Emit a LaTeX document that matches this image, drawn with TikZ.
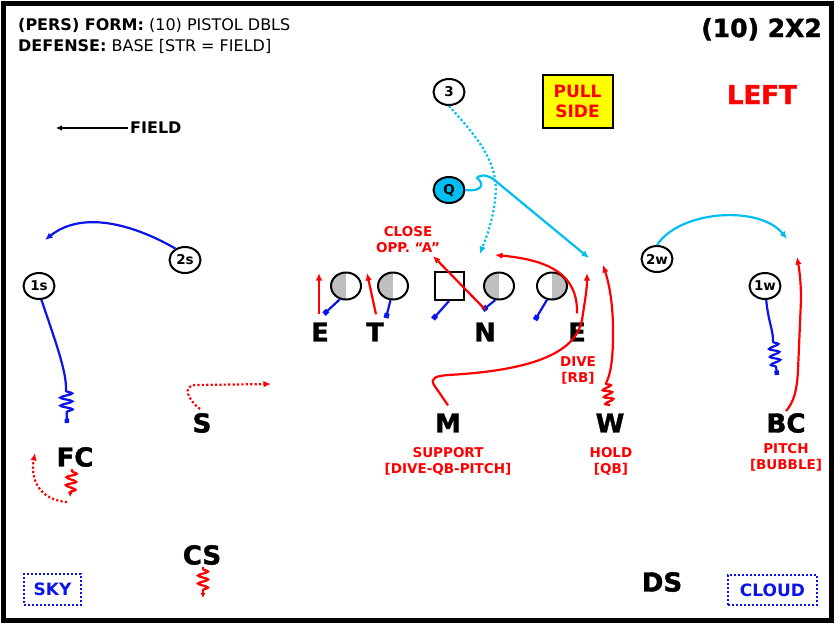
\documentclass[tikz,border=0pt]{standalone}
\usepackage{fontspec}
\setmainfont{DejaVu Sans}
\newfontfamily\heavyfont[BoldFeatures={FakeBold=1.6}]{DejaVu Sans}
\usetikzlibrary{shapes.geometric,arrows.meta,decorations.pathmorphing}
\definecolor{redR}{RGB}{255,0,0}
\definecolor{blueR}{RGB}{10,20,235}
\definecolor{cyanR}{RGB}{0,190,240}
\definecolor{grayR}{RGB}{191,191,191}
\definecolor{yellowR}{RGB}{255,255,0}
\begin{document}
\begin{tikzpicture}[x=1pt,y=-1pt,
  player/.style={ellipse, draw, line width=2pt, minimum width=31pt, minimum height=26pt, inner sep=0pt, font=\bfseries\fontsize{13.5}{15}\selectfont},
  lmL/.style={ellipse, draw, line width=2pt, minimum width=30pt, minimum height=27pt, inner sep=0pt,
     path picture={\fill[grayR] (path picture bounding box.south west) rectangle (path picture bounding box.north);}},
  lmR/.style={ellipse, draw, line width=2pt, minimum width=30pt, minimum height=27pt, inner sep=0pt,
     path picture={\fill[grayR] (path picture bounding box.south) rectangle (path picture bounding box.north east);}},
  ctr/.style={rectangle, draw, line width=2pt, minimum width=29pt, minimum height=28pt, inner sep=0pt},
  dft/.style={font=\heavyfont\bfseries\fontsize{26}{28}\selectfont, inner sep=0pt},
  lbl/.style={text=redR, font=\bfseries\fontsize{13.5}{16}\selectfont, align=center, inner sep=0pt},
  lw/.style={line width=2.2pt},
  rte/.style={line width=2.2pt, -{Latex[length=7.5pt,width=6.5pt]}},
  blk/.style={blueR, line width=2.2pt, -{Square[length=5pt,width=5pt]}},
  dotr/.style={line width=2.4pt, dash pattern=on 2.2pt off 2.2pt},
  zone/.style={draw=blueR, line width=2pt, dash pattern=on 2pt off 2pt, text=blueR, inner sep=0pt, font=\bfseries\fontsize{17}{20}\selectfont},
]
\useasboundingbox (0,0) rectangle (840,630);
\fill[white] (0,0) rectangle (840,630);
\draw[line width=5pt] (3,3) rectangle (831.5,620.5);

% header
\node[anchor=base west, inner sep=0pt, font=\fontsize{16}{19}\selectfont] (hdr1) at (18,30) {\textbf{(PERS) FORM:} (10) PISTOL DBLS};
\node[anchor=base west, inner sep=0pt, font=\fontsize{16}{19}\selectfont] (hdr2) at (18,51) {\textbf{DEFENSE:} BASE [STR = FIELD]};
\node[anchor=base east, inner sep=0pt, font=\heavyfont\bfseries\fontsize{25}{28}\selectfont] (ttl) at (822,37) {(10) 2X2};
\node[anchor=base east, inner sep=0pt, text=redR, font=\heavyfont\bfseries\fontsize{26}{28}\selectfont] (lft) at (797,104) {LEFT};
\node[draw, line width=2pt, fill=yellowR, minimum width=70pt, minimum height=53pt, inner sep=0pt, text=redR, align=center, font=\bfseries\fontsize{17}{20}\selectfont] (pull) at (577.5,101) {PULL\\SIDE};

% field arrow
\node[anchor=west, inner sep=0pt, font=\bfseries\fontsize{16}{18}\selectfont] (fld) at (130,128) {FIELD};
\coordinate (fldT) at (56,128);
\draw[line width=1.5pt, shorten <=2pt, -{Latex[length=6pt,width=5.5pt]}] (fld.west) -- (fldT);

% offense
\node[player] (p3) at (449,92) {3};
\node[player, fill=cyanR] (pQ) at (449,190) {Q};
\node[player] (p2s) at (185,260) {2s};
\node[player] (p1s) at (39,286) {1s};
\node[player] (p2w) at (657,259) {2w};
\node[player] (p1w) at (765,286) {1w};

\node[lmL] (c1) at (346,286) {};
\node[lmL] (c2) at (393,286) {};
\node[ctr] (c3) at (449,286) {};
\node[lmL] (c4) at (499,286) {};
\node[lmR] (c5) at (552,286) {};

% defense
\node[dft] (dE1) at (320,332) {E};
\node[dft] (dT) at (375,332) {T};
\node[dft] (dN) at (485,332) {N};
\node[dft] (dE2) at (577,332) {E};
\node[dft] (dM) at (448,423) {M};
\node[dft] (dW) at (610,423) {W};
\node[dft] (dBC) at (786,423) {BC};
\node[dft] (dS) at (202,423) {S};
\node[dft] (dFC) at (75,457) {FC};
\node[dft] (dCS) at (202,555) {CS};
\node[dft] (dDS) at (662,582) {DS};

% labels
\node[lbl] (lclose) at (408,239.5) {CLOSE\\OPP. “A”};
\node[lbl] (ldive) at (578,370) {DIVE\\{[RB]}};
\node[lbl] (lsup) at (448,461.5) {SUPPORT\\{[DIVE-QB-PITCH]}};
\node[lbl] (lhold) at (611,461.5) {HOLD\\{[QB]}};
\node[lbl] (lpitch) at (786,457.5) {PITCH\\{[BUBBLE]}};

\node[zone, minimum width=57pt, minimum height=31pt] (sky) at (52.5,589.5) {SKY};
\node[zone, minimum width=89pt, minimum height=30pt] (cloud) at (772.5,590) {CLOUD};

% offensive routes
\coordinate (t2s) at (45,240);
\draw[blueR, rte] (p2s.130) .. controls (140,228) and (85,208) .. (t2s);
\coordinate (s1a) at (66,388);
\coordinate (s1b) at (67,423);
\draw[blueR, lw] (p1s.-80) .. controls (55,340) and (66,370) .. (s1a);
\draw[blueR, lw, -{Square[length=4.5pt,width=4.5pt]}, decorate, decoration={snake, amplitude=6pt, segment length=8pt, pre length=3pt, post length=8pt}] (s1a) -- (s1b);

\coordinate (w1a) at (773,340);
\coordinate (w1b) at (777,375);
\draw[blueR, lw] (p1w.-85) .. controls (768,320) and (773,330) .. (w1a);
\draw[blueR, lw, -{Square[length=4.5pt,width=4.5pt]}, decorate, decoration={snake, amplitude=5pt, segment length=8pt, pre length=2pt, post length=7pt}] (w1a) -- (w1b);

\coordinate (t2w) at (787,239);
\draw[cyanR, rte] (p2w.north) .. controls (680,210) and (760,205) .. (t2w);

\coordinate (tQ) at (589,258);
\draw[cyanR, rte] (pQ.east) .. controls (482,192) and (485,184) .. (477,178) .. controls (482,173) and (491,176) .. (498,183) -- (tQ);

\coordinate (t3) at (480,254);
\draw[cyanR, dotr, rte] (p3.south) .. controls (480,140) and (500,165) .. (495,200) .. controls (492,225) and (485,240) .. (t3);

% line blocks
\coordinate (b1) at (324,314);
\coordinate (b2) at (386,318);
\coordinate (b3) at (433,319);
\coordinate (b4) at (483,310);
\coordinate (b5) at (535,320);
\draw[blk] (c1.-115) -- (b1);
\draw[blk] (c2.-100) -- (b2);
\draw[blk] (c3.south) -- (b3);
\draw[blk] (c4.-105) -- (b4);
\draw[blk] (c5.-110) -- (b5);

% defensive routes
\coordinate (tE1) at (319,273);
\draw[redR, rte] ([xshift=-1pt,yshift=8pt]dE1.north) -- (tE1);
\coordinate (tT) at (367,273);
\draw[redR, rte] ([xshift=1pt,yshift=8pt]dT.north) -- (tT);
\coordinate (tN) at (433,256);
\draw[redR, rte] ([yshift=13pt]dN.north) -- (tN);
\coordinate (tE2) at (495,255);
\draw[redR, rte] ([yshift=9pt]dE2.north) .. controls (578,275) and (550,260) .. (tE2);

\coordinate (tM) at (587,273);
\draw[redR, rte] ([yshift=8pt]dM.north) -- (434,385) .. controls (430,378) and (436,376) .. (448,375) .. controls (540,370) and (576,350) .. (582,320) .. controls (585,300) and (587,290) .. (tM);

\coordinate (wq) at (606,383);
\coordinate (tW) at (603,265);
\draw[redR, lw, decorate, decoration={snake, amplitude=4.5pt, segment length=7pt}] ([yshift=8pt]dW.north) -- (wq);
\draw[redR, rte] (wq) .. controls (613,370) and (613,345) .. (613,330) .. controls (613,300) and (608,280) .. (tW);

\coordinate (tBC) at (797,257);
\draw[redR, rte] ([yshift=2pt]dBC.north) .. controls (794,402) and (797,390) .. (798,370) -- (801,300) .. controls (801,280) and (799,268) .. (tBC);

\coordinate (tS) at (271,384);
\draw[redR, dotr, rte] ([xshift=-2pt,yshift=4pt]dS.north) .. controls (188,400) and (182,386) .. (195,385) -- (tS);

\coordinate (fcA) at (70,497);
\coordinate (fcB) at (67,502);
\coordinate (tFC) at (35,453);
\draw[redR, lw, -{Latex[length=5pt,width=5pt]}, decorate, decoration={snake, amplitude=5pt, segment length=8pt, pre length=2pt, post length=5pt}] ([xshift=-3pt,yshift=-2pt]dFC.south) -- (fcA);
\draw[redR, dotr, rte] (fcB) .. controls (40,500) and (30,480) .. (tFC);

\coordinate (tCS) at (203,598);
\draw[redR, lw, -{Latex[length=5pt,width=5pt]}, decorate, decoration={snake, amplitude=5pt, segment length=8pt, pre length=2pt, post length=5pt}] ([xshift=1pt,yshift=-2pt]dCS.south) -- (tCS);
\end{tikzpicture}
\end{document}
